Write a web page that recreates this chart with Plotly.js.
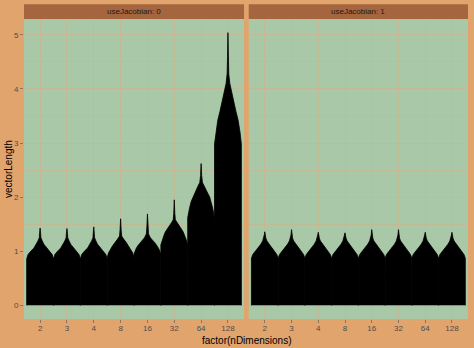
<!DOCTYPE html>
<html>
<head>
<meta charset="utf-8">
<script src="https://cdn.plot.ly/plotly-3.0.1.min.js"></script>
<style>html,body{margin:0;padding:0;background:#E1A46C;}#chart{width:474px;height:348px;}</style>
</head>
<body>
<div id="chart"></div>
<script>
// Categories on the x axis (factor(nDimensions))
const categories = ["2", "3", "4", "8", "16", "32", "64", "128"];
const panels = ["useJacobian: 0", "useJacobian: 1"];

// Violin outlines: vectorLength levels and half-widths (in category units)
// Panel useJacobian: 0
const levels0 = [
  [0, 0.86, 0.94, 1.00, 1.06, 1.13, 1.19, 1.25, 1.33, 1.43],
  [0, 0.86, 0.94, 1.00, 1.06, 1.13, 1.19, 1.25, 1.33, 1.42],
  [0, 0.86, 0.94, 1.00, 1.06, 1.13, 1.19, 1.25, 1.33, 1.45],
  [0, 0.88, 0.97, 1.04, 1.10, 1.17, 1.22, 1.28, 1.40, 1.60],
  [0, 0.95, 1.05, 1.10, 1.15, 1.21, 1.25, 1.32, 1.45, 1.69],
  [0, 1.12, 1.22, 1.30, 1.36, 1.46, 1.53, 1.58, 1.70, 1.95],
  [0, 1.62, 1.80, 1.92, 2.00, 2.12, 2.20, 2.27, 2.40, 2.62],
  [0, 2.98, 3.20, 3.42, 3.58, 3.80, 3.93, 4.10, 4.28, 4.60, 5.04]
];
const widths0 = [
  [0.5, 0.5, 0.45, 0.35, 0.23, 0.14, 0.08, 0.03, 0.02, 0],
  [0.5, 0.5, 0.45, 0.35, 0.23, 0.14, 0.08, 0.03, 0.02, 0],
  [0.5, 0.5, 0.45, 0.35, 0.23, 0.14, 0.08, 0.03, 0.02, 0],
  [0.5, 0.5, 0.45, 0.37, 0.30, 0.20, 0.12, 0.04, 0.02, 0],
  [0.5, 0.5, 0.42, 0.36, 0.29, 0.18, 0.11, 0.04, 0.02, 0],
  [0.5, 0.5, 0.44, 0.38, 0.33, 0.20, 0.10, 0.04, 0.02, 0],
  [0.5, 0.5, 0.43, 0.37, 0.32, 0.20, 0.12, 0.05, 0.02, 0],
  [0.5, 0.5, 0.45, 0.38, 0.30, 0.20, 0.14, 0.07, 0.03, 0.015, 0]
];
// Panel useJacobian: 1
const levels1 = [
  [0, 0.87, 0.94, 1.00, 1.07, 1.13, 1.19, 1.24, 1.30, 1.36],
  [0, 0.87, 0.94, 1.00, 1.07, 1.13, 1.19, 1.24, 1.30, 1.40],
  [0, 0.87, 0.94, 1.00, 1.07, 1.13, 1.19, 1.24, 1.30, 1.35],
  [0, 0.87, 0.94, 1.00, 1.07, 1.13, 1.19, 1.24, 1.30, 1.34],
  [0, 0.87, 0.94, 1.00, 1.07, 1.13, 1.19, 1.24, 1.30, 1.40],
  [0, 0.87, 0.94, 1.00, 1.07, 1.13, 1.19, 1.24, 1.30, 1.40],
  [0, 0.87, 0.94, 1.00, 1.07, 1.13, 1.19, 1.24, 1.30, 1.35],
  [0, 0.87, 0.94, 1.00, 1.07, 1.13, 1.19, 1.24, 1.30, 1.35]
];
const widths1 = [
  [0.5, 0.5, 0.45, 0.36, 0.24, 0.15, 0.08, 0.04, 0.02, 0],
  [0.5, 0.5, 0.45, 0.36, 0.24, 0.15, 0.08, 0.04, 0.02, 0],
  [0.5, 0.5, 0.45, 0.36, 0.24, 0.15, 0.08, 0.04, 0.02, 0],
  [0.5, 0.5, 0.45, 0.36, 0.24, 0.15, 0.08, 0.04, 0.02, 0],
  [0.5, 0.5, 0.45, 0.36, 0.24, 0.15, 0.08, 0.04, 0.02, 0],
  [0.5, 0.5, 0.45, 0.36, 0.24, 0.15, 0.08, 0.04, 0.02, 0],
  [0.5, 0.5, 0.45, 0.36, 0.24, 0.15, 0.08, 0.04, 0.02, 0],
  [0.5, 0.5, 0.45, 0.36, 0.24, 0.15, 0.08, 0.04, 0.02, 0]
];

const catPos = categories.map((c, i) => i + 1);

function violinTraces(levels, widths, xa, ya) {
  return categories.map((cat, i) => {
    const lv = levels[i], wd = widths[i], c = catPos[i];
    const xs = [], ys = [];
    for (let k = 0; k < lv.length; k++) { xs.push(c + wd[k]); ys.push(lv[k]); }
    for (let k = lv.length - 1; k >= 0; k--) { xs.push(c - wd[k]); ys.push(lv[k]); }
    return {
      type: 'scatter', mode: 'lines', x: xs, y: ys, xaxis: xa, yaxis: ya,
      fill: 'toself', fillcolor: '#000000',
      line: {color: '#000000', width: 0.8}, hoverinfo: 'skip', showlegend: false, name: cat
    };
  });
}

const data = violinTraces(levels0, widths0, 'x', 'y').concat(violinTraces(levels1, widths1, 'x2', 'y2'));

const gridCol = '#D3B088';
const tickFont = {family: 'Liberation Sans, Arial, sans-serif', size: 8, color: '#4D4D4D'};
const xCommon = {
  range: [0.4, 8.6], tickvals: catPos, ticktext: categories, ticks: 'outside', ticklen: 3,
  tickcolor: '#555555', tickwidth: 0.6, showgrid: true, gridcolor: gridCol, gridwidth: 0.6,
  zeroline: false, showline: false, tickfont: tickFont, fixedrange: true, ticklabelstandoff: -2
};
const yCommon = {
  range: [-0.252, 5.292], dtick: 1, tick0: 0, ticks: 'outside', ticklen: 3,
  tickcolor: '#555555', tickwidth: 0.6, showgrid: true, gridcolor: gridCol, gridwidth: 0.6,
  minor: {dtick: 0.5, tick0: 0, showgrid: true, gridcolor: gridCol, gridwidth: 0.6, ticks: ''},
  zeroline: false, showline: false, tickfont: tickFont, fixedrange: true
};

const d1 = [0, 0.4956], d2 = [0.5062, 1];
const layout = {
  width: 474, height: 348,
  margin: {l: 24, r: 5.5, t: 19, b: 29},
  paper_bgcolor: '#E1A46C', plot_bgcolor: '#A9C8A7',
  xaxis: Object.assign({}, xCommon, {domain: d1, anchor: 'y'}),
  xaxis2: Object.assign({}, xCommon, {domain: d2, anchor: 'y2'}),
  yaxis: Object.assign({}, yCommon, {anchor: 'x'}),
  yaxis2: Object.assign({}, yCommon, {anchor: 'x2', showticklabels: false, ticks: '', matches: 'y'}),
  shapes: [
    {type: 'rect', xref: 'paper', yref: 'paper', x0: d1[0], x1: d1[1], y0: 1, y1: 1.049, fillcolor: '#A5663F', line: {width: 0}},
    {type: 'rect', xref: 'paper', yref: 'paper', x0: d2[0], x1: d2[1], y0: 1, y1: 1.049, fillcolor: '#A5663F', line: {width: 0}}
  ],
  annotations: [
    {text: panels[0], xref: 'paper', yref: 'paper', x: (d1[0] + d1[1]) / 2, y: 1.0245, showarrow: false,
     xanchor: 'center', yanchor: 'middle', font: {family: 'Liberation Sans, Arial, sans-serif', size: 8, color: '#1A1A1A'}},
    {text: panels[1], xref: 'paper', yref: 'paper', x: (d2[0] + d2[1]) / 2, y: 1.0245, showarrow: false,
     xanchor: 'center', yanchor: 'middle', font: {family: 'Liberation Sans, Arial, sans-serif', size: 8, color: '#1A1A1A'}},
    {text: 'factor(nDimensions)', xref: 'paper', yref: 'paper', x: 0.5, y: 0, yshift: -21, showarrow: false,
     xanchor: 'center', yanchor: 'middle', font: {family: 'Liberation Sans, Arial, sans-serif', size: 10, color: '#000000'}},
    {text: 'vectorLength', xref: 'paper', yref: 'paper', x: 0, xshift: -16, y: 0.5, textangle: -90, showarrow: false,
     xanchor: 'center', yanchor: 'middle', font: {family: 'Liberation Sans, Arial, sans-serif', size: 10, color: '#000000'}}
  ]
};

Plotly.newPlot('chart', data, layout, {displayModeBar: false, staticPlot: true});
</script>
</body>
</html>
